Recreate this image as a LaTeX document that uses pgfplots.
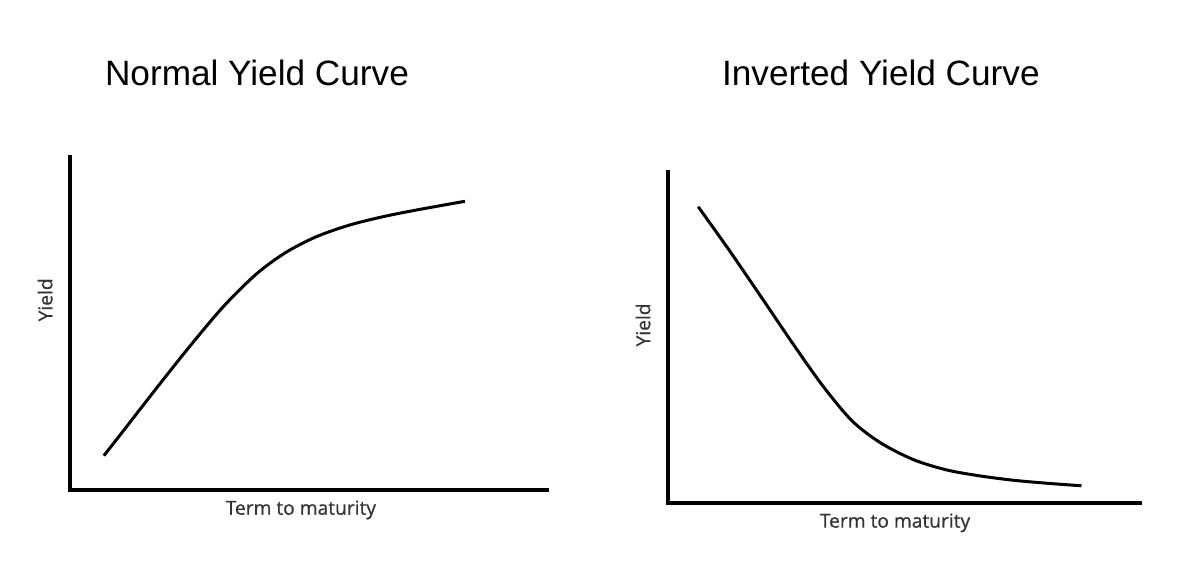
\documentclass[border=0pt]{standalone}
\usepackage{fontspec}
\setmainfont{Liberation Sans}
\newfontfamily\labelfont[FakeBold=0.6]{Open Sans}
\usepackage{pgfplots}
\pgfplotsset{compat=1.18}
\begin{document}
\begin{tikzpicture}
\useasboundingbox[fill=white] (0,0) rectangle (589bp,283bp);
\pgfplotsset{
  yc/.style={
    scale only axis,
    xmin=0, xmax=1, ymin=0, ymax=1,
    axis x line=bottom, axis y line=left,
    axis line style={line width=2.4bp, line cap=rect, -},
    xtick=\empty, ytick=\empty,
    clip=false,
  }
}
% Left panel
\begin{axis}[yc, at={(35bp,38bp)}, anchor=south west, width=238.5bp, height=166.5bp]
\addplot[black, line width=1.5bp, smooth] coordinates {
 (0.071,0.103)(0.112,0.178)(0.182,0.307)(0.252,0.433)(0.321,0.550)(0.391,0.649)
 (0.452,0.713)(0.517,0.761)(0.587,0.796)(0.657,0.821)(0.727,0.841)(0.828,0.867)};
\node[anchor=center, font=\fontsize{17.6bp}{20bp}\selectfont] at (axis description cs:0.392,1.252) {Normal Yield Curve};
\node[anchor=center, text=black!80, font=\labelfont\fontsize{9.6bp}{11bp}\selectfont] at (axis description cs:0.484,-0.06) {Term to maturity};
\node[anchor=center, rotate=90, text=black!80, font=\labelfont\fontsize{9.6bp}{11bp}\selectfont] at (axis description cs:-0.052,0.571) {Yield};
\end{axis}
% Right panel
\begin{axis}[yc, at={(334bp,31.5bp)}, anchor=south west, width=236bp, height=165.5bp]
\addplot[black, line width=1.5bp, smooth] coordinates {
 (0.064,0.895)(0.130,0.763)(0.200,0.617)(0.270,0.470)(0.330,0.350)(0.390,0.248)
 (0.450,0.182)(0.520,0.131)(0.590,0.100)(0.660,0.082)(0.730,0.069)(0.800,0.060)(0.876,0.052)};
\node[anchor=center, font=\fontsize{17.6bp}{20bp}\selectfont] at (axis description cs:0.451,1.299) {Inverted Yield Curve};
\node[anchor=center, text=black!80, font=\labelfont\fontsize{9.6bp}{11bp}\selectfont] at (axis description cs:0.481,-0.06) {Term to maturity};
\node[anchor=center, rotate=90, text=black!80, font=\labelfont\fontsize{9.6bp}{11bp}\selectfont] at (axis description cs:-0.053,0.538) {Yield};
\end{axis}
\end{tikzpicture}
\end{document}
